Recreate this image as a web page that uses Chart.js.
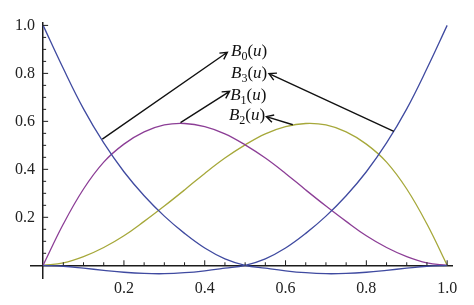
<!DOCTYPE html>
<html>
<head>
<meta charset="utf-8">
<script src="https://cdn.jsdelivr.net/npm/chart.js@4.4.1/dist/chart.umd.min.js"></script>
<style>
    html, body { margin: 0; padding: 0; background: #ffffff; }
</style>
</head>
<body>
<canvas id="basisChart" width="474" height="305"></canvas>
<script>
/* --------------- Values --------------------------------------- */
const uValues = [0, 0.05, 0.1, 0.15, 0.2, 0.25, 0.3, 0.35, 0.4, 0.45, 0.5,
                 0.55, 0.6, 0.65, 0.7, 0.75, 0.8, 0.85, 0.9, 0.95, 1.0];
const b0Values = [1.0, 0.82, 0.652, 0.51, 0.39, 0.29, 0.205, 0.133, 0.072, 0.027, 0.0,
                  -0.012, -0.023, -0.031, -0.035, -0.034, -0.029, -0.021, -0.012, -0.004, 0.0];
const b1Values = [0, 0.172, 0.318, 0.43, 0.505, 0.556, 0.585, 0.591, 0.578, 0.548, 0.502,
                  0.447, 0.383, 0.314, 0.247, 0.183, 0.123, 0.074, 0.036, 0.01, 0];
const b2Values = [0, 0.01, 0.036, 0.074, 0.123, 0.183, 0.247, 0.314, 0.383, 0.447, 0.502,
                  0.548, 0.578, 0.591, 0.585, 0.556, 0.505, 0.43, 0.318, 0.172, 0];
const b3Values = [0, -0.004, -0.012, -0.021, -0.029, -0.034, -0.035, -0.031, -0.023, -0.012, 0.0,
                  0.027, 0.072, 0.133, 0.205, 0.29, 0.39, 0.51, 0.652, 0.82, 1.0];

const xTickValues = [0.2, 0.4, 0.6, 0.8, 1.0];
const yTickValues = [0.2, 0.4, 0.6, 0.8, 1.0];
const minorStep = 0.05;

/* --------------- Label notes: text spot and arrow (data coords) --------------------- */
const noteSubs = ["0", "3", "1", "2"];
const noteText = [[0.465, 0.874], [0.465, 0.781], [0.463, 0.687], [0.460, 0.607]];
const noteArrowFrom = [[0.1465, 0.526], [0.868, 0.558], [0.340, 0.595], [0.618, 0.586]];
const noteArrowTo = [[0.456, 0.888], [0.559, 0.799], [0.4616, 0.725], [0.5525, 0.620]];

/* --------------- Colors --------------------- */
const blue = "#3f4aa0";
const purple = "#8c3e96";
const olive = "#a6a83a";
const axisColor = "#1c1c1c";
const serif = '"Liberation Serif", "Times New Roman", serif';

const toPoints = (vals) => uValues.map((u, i) => ({ x: u, y: vals[i] }));

const lineSet = (vals, color) => ({
    data: toPoints(vals),
    borderColor: color,
    borderWidth: 1.3,
    pointRadius: 0,
    fill: false,
    tension: 0.4,
});

/* --------------- Ticks drawn inside, plus y labels --------------------- */
const axisMarks = {
    id: "axisMarks",
    afterDraw(chart) {
        const { ctx, scales: { x, y } } = chart;
        const x0 = x.getPixelForValue(0);
        const y0 = y.getPixelForValue(0);
        ctx.save();
        ctx.strokeStyle = axisColor;
        ctx.lineWidth = 1;
        for (let i = 1; i * minorStep <= 1.0001; i++) {
            const v = i * minorStep;
            const len = i % 4 === 0 ? 5 : 3;
            const px = x.getPixelForValue(v);
            ctx.beginPath();
            ctx.moveTo(px, y0);
            ctx.lineTo(px, y0 - len);
            ctx.stroke();
            const py = y.getPixelForValue(v);
            ctx.beginPath();
            ctx.moveTo(x0, py);
            ctx.lineTo(x0 + len, py);
            ctx.stroke();
        }
        ctx.fillStyle = "#222";
        ctx.font = "16px " + serif;
        ctx.textAlign = "right";
        ctx.textBaseline = "middle";
        yTickValues.forEach((v) => {
            ctx.fillText(v.toFixed(1), x0 - 8, y.getPixelForValue(v));
        });
        ctx.restore();
    },
};

/* --------------- B_i(u) labels with arrows --------------------- */
const drawLabel = (ctx, sub, px, py) => {
    let w = 0;
    const put = (str, font, dy) => {
        ctx.font = font;
        ctx.fillText(str, px + w, py + dy);
        w += ctx.measureText(str).width;
    };
    put("B", "italic 17px " + serif, 0);
    put(sub, "12px " + serif, 4);
    put("(", "17px " + serif, 0);
    put("u", "italic 17px " + serif, 0);
    put(")", "17px " + serif, 0);
};

const curveNotes = {
    id: "curveNotes",
    afterDraw(chart) {
        const { ctx, scales: { x, y } } = chart;
        ctx.save();
        ctx.strokeStyle = "#111";
        ctx.fillStyle = "#111";
        ctx.lineWidth = 1.4;
        ctx.textAlign = "left";
        ctx.textBaseline = "alphabetic";
        noteSubs.forEach((sub, i) => {
            const fx = x.getPixelForValue(noteArrowFrom[i][0]);
            const fy = y.getPixelForValue(noteArrowFrom[i][1]);
            const tx = x.getPixelForValue(noteArrowTo[i][0]);
            const ty = y.getPixelForValue(noteArrowTo[i][1]);
            ctx.beginPath();
            ctx.moveTo(fx, fy);
            ctx.lineTo(tx, ty);
            const ang = Math.atan2(ty - fy, tx - fx);
            const head = 8;
            ctx.moveTo(tx - head * Math.cos(ang - 0.5), ty - head * Math.sin(ang - 0.5));
            ctx.lineTo(tx, ty);
            ctx.lineTo(tx - head * Math.cos(ang + 0.5), ty - head * Math.sin(ang + 0.5));
            ctx.stroke();
            drawLabel(ctx, sub, x.getPixelForValue(noteText[i][0]), y.getPixelForValue(noteText[i][1]));
        });
        ctx.restore();
    },
};

/* --------------- Chart --------------------- */
new Chart(document.getElementById("basisChart"), {
    type: "line",
    data: {
        datasets: [
            lineSet(b0Values, blue),
            lineSet(b3Values, blue),
            lineSet(b1Values, purple),
            lineSet(b2Values, olive),
        ],
    },
    plugins: [axisMarks, curveNotes],
    options: {
        responsive: false,
        animation: false,
        layout: { padding: { left: 31, right: 22, top: 23, bottom: 27 } },
        plugins: {
            legend: { display: false },
            tooltip: { enabled: false },
        },
        scales: {
            x: {
                type: "linear",
                position: { y: 0 },
                min: -0.03,
                max: 1.012,
                grid: { display: false },
                border: { display: true, color: axisColor, width: 1.5 },
                afterBuildTicks: (scale) => {
                    scale.ticks = xTickValues.map((v) => ({ value: v }));
                },
                ticks: {
                    padding: 6,
                    maxRotation: 0,
                    color: "#222",
                    font: { family: serif, size: 16 },
                    callback: (v) => Number(v).toFixed(1),
                },
            },
            y: {
                type: "linear",
                position: { x: 0 },
                min: -0.053,
                max: 1.01,
                grid: { display: false },
                border: { display: true, color: axisColor, width: 1.5 },
                ticks: { display: false },
            },
        },
    },
});
</script>
</body>
</html>
